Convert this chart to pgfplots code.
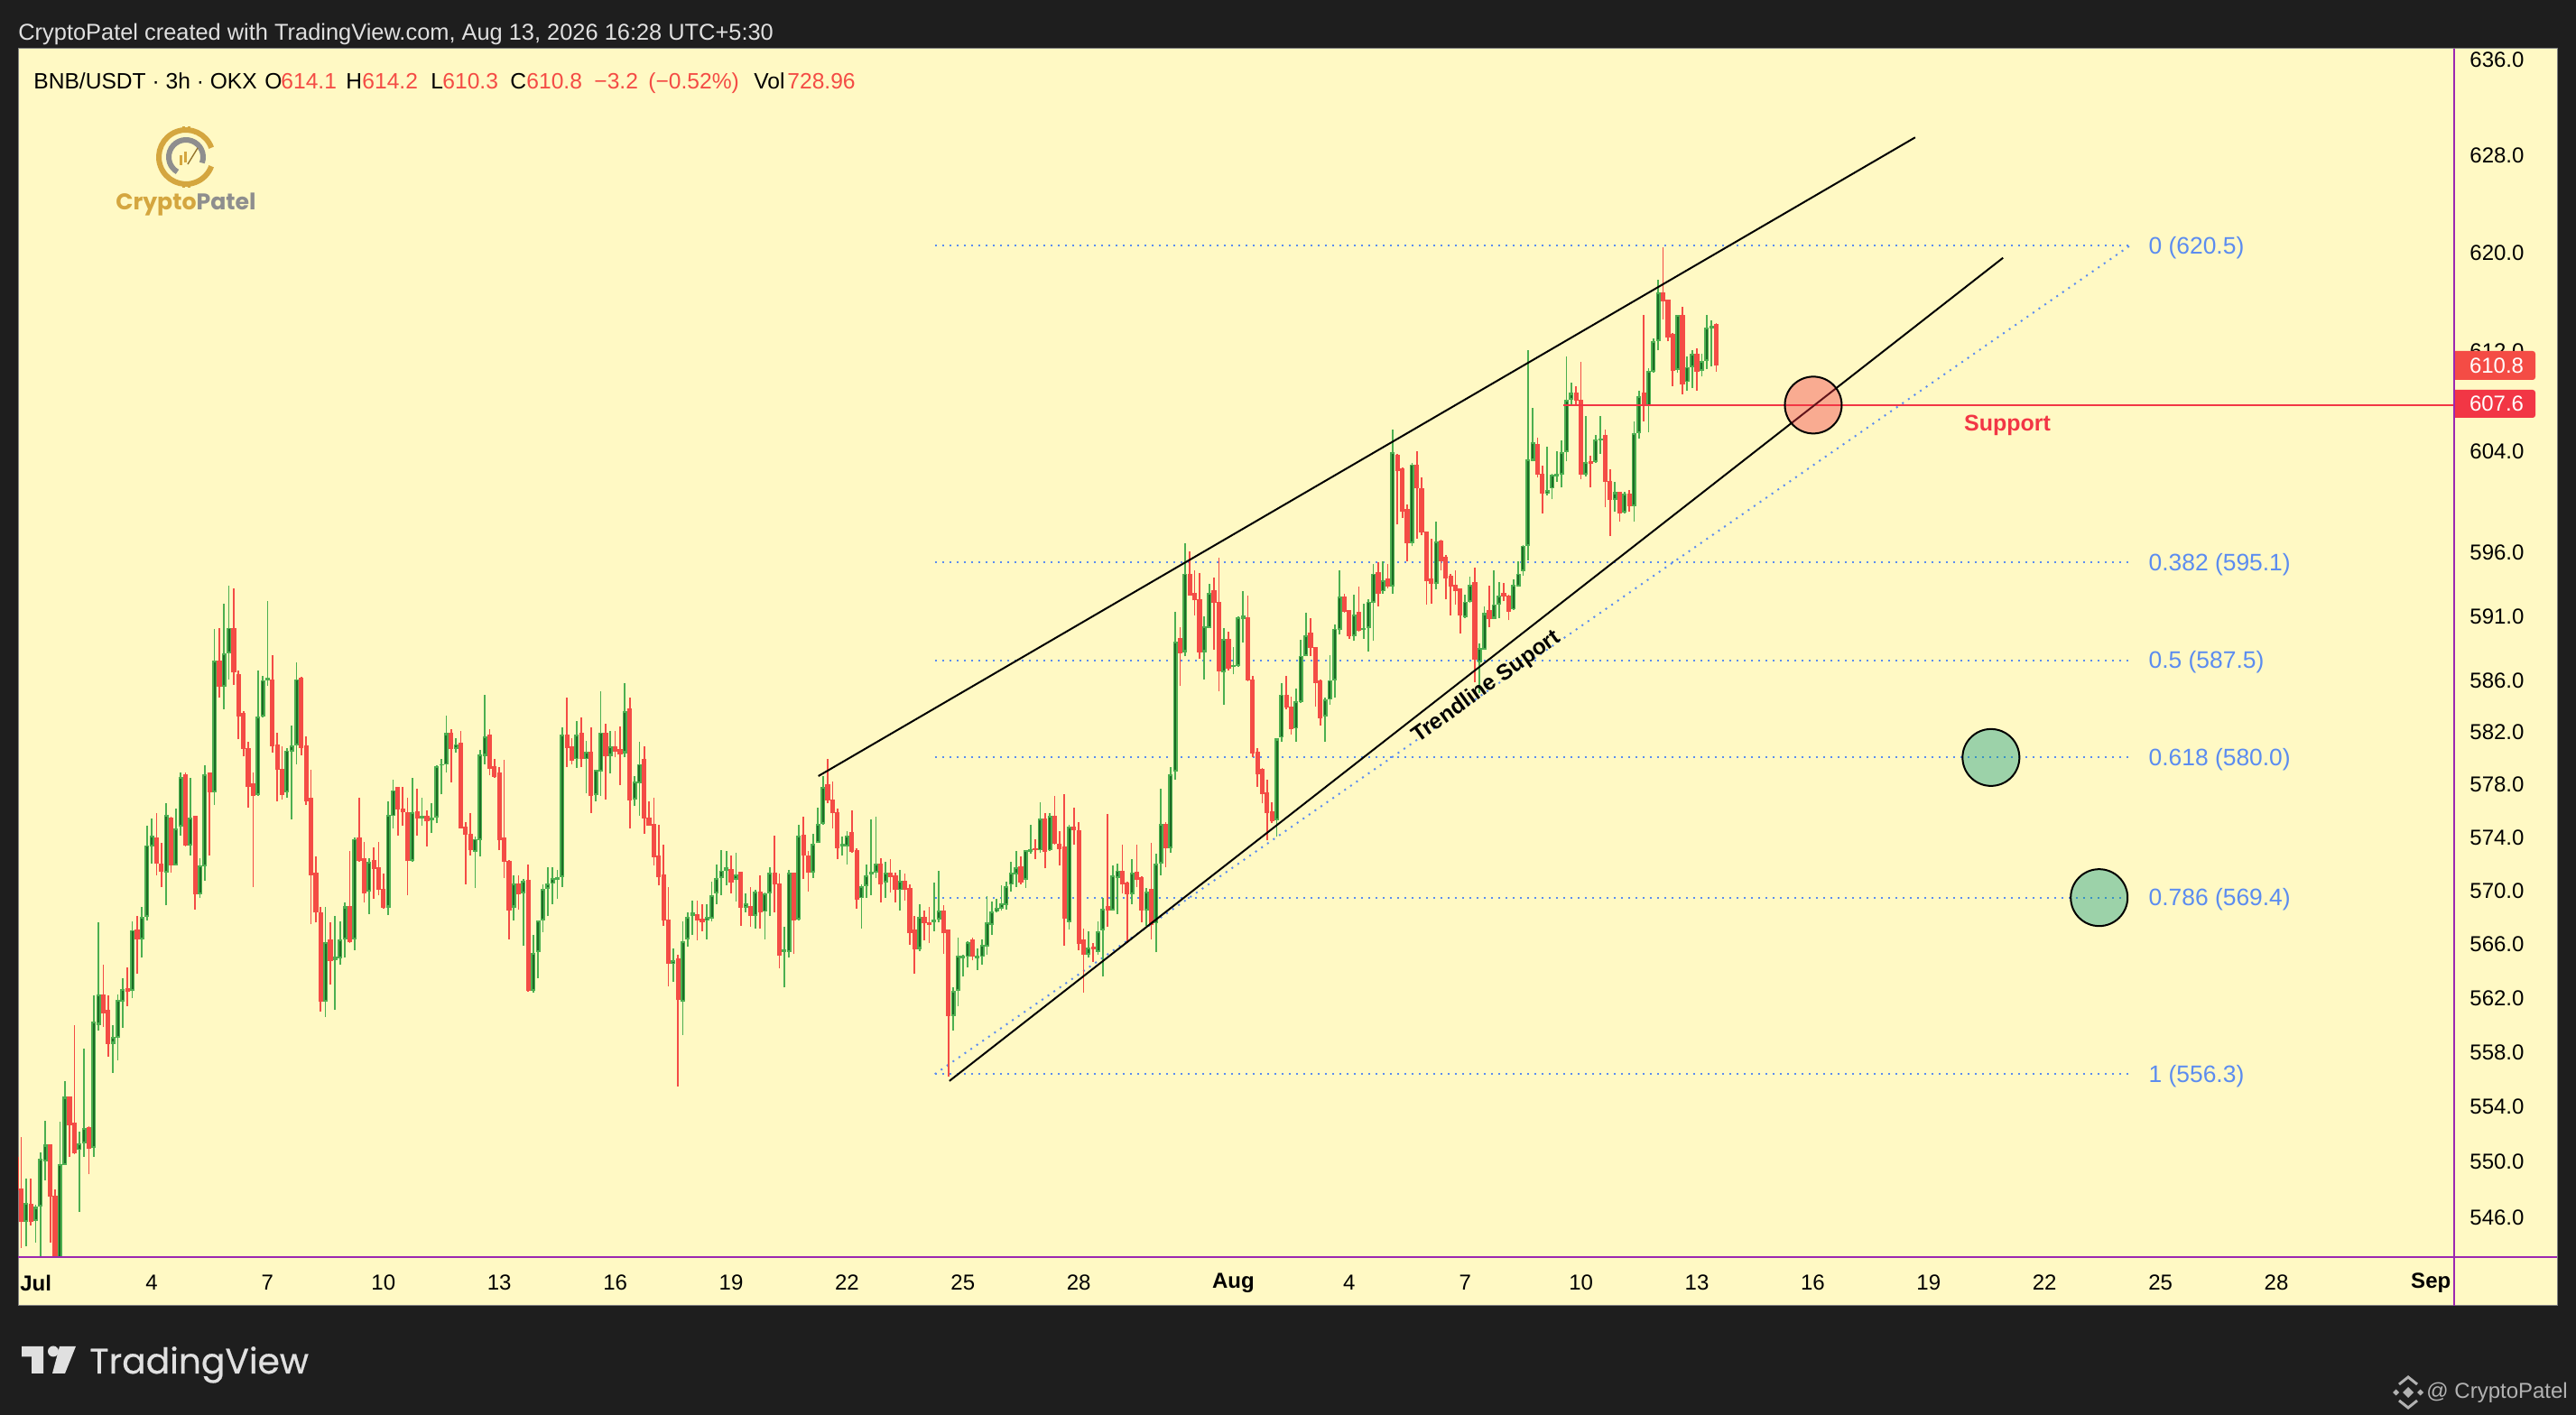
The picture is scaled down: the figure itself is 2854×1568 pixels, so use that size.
\documentclass[border=0pt]{standalone}
\usepackage{fontspec}
\setmainfont{Liberation Sans}
\newfontfamily\pop{Poppins}
\newfontfamily\popm{Poppins}[FakeBold=0.5]
\usepackage{pgfplots}
\usepackage{pgfplotstable}
\pgfplotsset{compat=1.18}

\definecolor{bgdark}{HTML}{1E1E1E}
\definecolor{panel}{HTML}{FFF9C4}
\definecolor{upg}{HTML}{4CAF50}
\definecolor{updark}{HTML}{1B6B25}
\definecolor{dnr}{HTML}{F44C45}
\definecolor{supp}{HTML}{F23645}
\definecolor{fib}{HTML}{5B8CF0}
\definecolor{purp}{HTML}{9C27B0}
\definecolor{gold}{HTML}{D4A63F}
\definecolor{logogrey}{HTML}{8E8E8E}
\definecolor{tealc}{HTML}{089981}

% k = 3h bar index (k=0 is Jul 1), open high low close
\pgfplotstableread{
k o h l c
-4 550.2 550.2 545.5 547.9
-3 547.9 551.7 543.7 545.6
-2 545.6 548.7 543.8 546.9
-1 546.8 548.7 545.3 545.6
0 545.7 546.8 544.1 546.6
1 546.7 550.6 543.0 550.1
2 550.0 552.9 548.6 551.1
3 551.1 551.1 544.1 547.4
4 547.4 547.9 540.0 541.0
5 541.0 552.8 540.0 549.7
6 549.7 555.8 549.7 554.6
7 554.6 554.7 550.3 552.6
8 552.7 559.9 550.5 550.6
9 550.8 552.1 546.3 551.2
10 551.3 558.2 550.3 552.3
11 552.4 552.5 549.0 550.9
12 551.0 562.1 550.3 560.1
13 560.0 567.5 559.5 562.1
14 562.1 564.4 559.8 560.8
15 561.0 562.1 557.6 558.6
16 558.6 559.9 556.4 559.0
17 559.0 562.2 557.3 561.7
18 561.7 563.4 559.7 562.5
19 562.6 564.2 561.3 562.4
20 562.5 567.6 561.9 566.9
21 567.0 568.0 563.7 566.3
22 566.3 568.7 564.9 567.9
23 568.0 574.8 567.7 573.3
24 573.3 575.4 572.0 574.0
25 573.9 575.8 571.1 572.0
26 571.9 573.5 570.2 571.4
27 571.3 576.5 568.8 575.6
28 575.4 575.5 571.3 571.9
29 571.9 576.1 571.9 574.6
30 574.8 578.9 574.1 578.5
31 578.7 578.9 573.3 573.4
32 573.4 578.5 572.6 575.4
33 575.5 575.6 568.5 569.7
34 569.7 572.4 569.4 571.8
35 571.8 579.4 570.7 578.7
36 578.8 578.8 572.6 577.4
37 577.4 589.9 576.4 587.4
38 587.4 590.0 584.6 585.5
39 585.5 591.9 583.7 588.0
40 588.1 593.3 586.0 590.0
41 590.0 593.1 585.6 586.6
42 586.4 586.7 581.4 583.2
43 583.4 583.6 580.1 580.7
44 580.7 581.2 576.2 577.8
45 578.0 578.9 570.2 577.1
46 577.2 586.7 577.1 583.1
47 583.2 586.3 583.1 585.9
48 586.0 592.1 585.5 586.1
49 586.0 587.9 580.4 580.9
50 581.0 581.9 576.7 579.1
51 579.1 580.9 576.8 577.2
52 577.4 580.7 577.0 580.5
53 580.5 582.5 575.3 580.9
54 581.0 587.3 579.5 586.0
55 586.1 586.2 580.2 580.8
56 580.9 581.6 576.4 576.7
57 576.9 579.1 567.4 571.1
58 571.2 572.5 567.5 568.3
59 568.2 568.7 560.9 561.7
60 561.7 568.7 560.5 566.0
61 566.2 567.5 562.9 564.7
62 564.8 568.0 561.0 564.9
63 564.9 567.6 564.4 566.2
64 566.3 569.0 564.9 568.7
65 568.7 572.9 566.0 566.1
66 566.3 573.9 565.5 573.8
67 573.9 576.9 572.1 572.2
68 572.3 573.6 569.0 569.8
69 569.9 572.4 568.2 572.0
70 572.2 573.2 569.3 571.6
71 571.6 573.6 569.6 570.0
72 570.0 571.2 568.6 568.7
73 568.7 576.7 568.1 575.6
74 575.6 578.3 574.6 577.5
75 577.7 577.8 574.1 576.1
76 576.1 577.8 574.8 575.9
77 575.8 577.0 569.6 572.2
78 572.2 578.5 572.1 575.8
79 575.9 577.6 574.1 575.4
80 575.4 577.0 574.8 575.5
81 575.5 576.0 573.3 575.2
82 575.3 576.5 574.3 575.4
83 575.5 579.4 575.0 579.3
84 579.5 579.9 577.2 579.5
85 579.5 583.2 578.9 581.8
86 581.8 582.2 578.1 580.7
87 580.7 581.5 580.4 581.0
88 581.1 582.0 574.6 574.7
89 574.7 575.1 570.4 574.2
90 574.2 575.8 572.6 573.0
91 572.9 574.0 570.1 573.8
92 573.8 580.6 572.5 580.2
93 580.2 584.8 579.5 581.6
94 581.7 582.2 578.7 579.2
95 579.3 579.9 578.5 578.6
96 578.8 579.3 573.0 573.8
97 573.9 579.8 570.9 572.1
98 572.1 572.2 566.3 568.5
99 568.7 571.1 567.7 570.4
100 570.4 571.1 568.5 569.7
101 569.8 570.8 565.8 570.6
102 570.7 571.9 562.4 562.5
103 562.5 566.6 562.3 565.2
104 565.4 567.7 563.4 567.6
105 567.7 570.4 566.8 570.0
106 570.1 571.7 568.0 570.4
107 570.5 571.7 568.9 570.8
108 570.8 571.5 569.3 570.9
109 571.0 582.3 570.2 581.7
110 581.7 584.6 579.3 580.8
111 580.8 581.5 579.5 579.8
112 579.9 582.8 579.2 581.7
113 581.9 583.1 579.3 579.9
114 579.9 581.3 577.3 580.4
115 580.4 582.3 575.8 577.1
116 577.2 579.1 576.7 579.0
117 579.0 585.1 577.1 581.9
118 581.8 582.6 576.8 580.2
119 580.2 582.0 578.8 580.8
120 580.8 582.0 580.0 580.5
121 580.6 582.4 577.9 580.3
122 580.4 585.7 580.0 583.5
123 583.7 584.6 574.6 576.8
124 576.9 578.6 576.3 578.1
125 578.1 581.2 575.6 579.5
126 579.8 580.9 574.2 575.4
127 575.4 576.7 574.8 574.9
128 574.9 576.9 571.8 572.5
129 572.5 574.9 570.3 571.0
130 571.1 573.4 567.3 567.7
131 567.7 570.2 562.8 564.5
132 564.5 565.6 563.1 564.7
133 564.8 565.1 555.4 561.8
134 561.7 567.6 559.2 566.1
135 566.3 568.3 565.7 567.9
136 568.1 569.2 566.6 568.2
137 568.1 569.2 566.2 567.7
138 567.8 568.9 566.9 567.6
139 567.7 568.9 566.3 567.9
140 567.9 570.6 567.6 569.5
141 569.8 571.9 568.9 570.8
142 570.9 573.0 569.6 571.4
143 571.5 572.9 570.3 571.6
144 571.5 572.6 569.7 570.6
145 570.8 572.8 569.1 571.1
146 571.3 571.3 567.3 568.7
147 568.7 569.7 568.3 568.9
148 568.7 570.2 567.2 568.1
149 568.1 570.0 567.1 569.8
150 569.8 571.1 567.1 568.3
151 568.4 569.8 566.3 569.7
152 569.8 571.7 568.0 571.2
153 571.2 574.1 568.3 570.4
154 570.4 571.2 564.1 565.1
155 565.4 567.2 562.7 565.5
156 565.4 571.5 564.9 571.2
157 571.2 571.3 565.2 567.7
158 567.8 574.9 567.7 574.0
159 574.1 575.5 570.8 572.6
160 572.5 572.9 569.9 571.3
161 571.3 574.2 570.9 573.4
162 573.6 576.2 573.5 574.9
163 575.0 578.6 574.9 577.7
164 577.9 579.9 576.5 576.8
165 576.8 578.2 574.6 575.8
166 575.8 576.1 572.3 573.2
167 573.3 574.0 572.6 573.4
168 573.3 574.4 571.9 574.0
169 574.3 576.0 572.8 572.9
170 572.9 573.1 568.6 569.3
171 569.4 570.4 567.1 570.2
172 570.3 571.9 569.4 571.0
173 571.2 575.3 569.6 571.3
174 571.3 575.5 570.9 571.9
175 571.9 572.4 569.0 570.4
176 570.6 572.1 569.4 571.2
177 571.2 572.3 569.8 571.0
178 571.0 571.3 569.0 570.0
179 570.0 571.5 568.4 570.6
180 570.6 571.2 569.2 570.0
181 570.1 570.4 565.9 566.8
182 567.0 568.0 563.7 565.6
183 565.6 568.9 565.4 567.9
184 567.9 568.4 566.2 567.5
185 567.5 568.7 566.0 567.4
186 567.6 570.5 566.9 567.7
187 567.8 571.4 567.5 568.4
188 568.4 568.8 565.2 566.8
189 567.0 567.0 556.1 560.6
190 560.6 562.7 559.5 562.4
191 562.5 566.4 561.3 565.0
192 564.9 565.1 563.5 565.0
193 565.0 566.1 564.2 566.0
194 566.2 566.4 564.7 565.0
195 564.9 565.6 564.0 565.0
196 565.0 566.3 564.4 565.8
197 565.8 569.5 565.1 567.5
198 567.4 569.1 566.6 568.3
199 568.4 569.3 568.3 568.6
200 568.6 570.3 568.4 568.9
201 568.9 570.6 568.5 570.2
202 570.4 572.1 569.9 571.2
203 571.2 572.9 570.2 571.6
204 571.7 572.5 570.4 570.6
205 570.8 573.0 570.1 572.9
206 572.9 574.9 572.7 573.0
207 573.1 573.8 572.3 573.0
208 573.0 576.6 572.8 575.3
209 575.3 575.8 571.6 572.9
210 573.0 575.8 572.9 575.5
211 575.5 577.1 573.4 573.5
212 573.4 574.4 571.8 573.1
213 573.2 577.2 565.8 567.9
214 567.6 574.9 567.0 574.7
215 574.7 576.2 573.4 574.5
216 574.4 575.1 565.5 566.0
217 566.2 567.1 562.3 565.2
218 565.2 566.9 564.9 565.6
219 565.7 566.0 564.6 565.6
220 565.4 567.6 565.1 566.8
221 567.0 569.4 563.5 568.5
222 568.7 575.7 567.2 568.5
223 568.5 571.8 568.4 571.0
224 570.9 572.0 568.2 571.4
225 571.4 573.4 569.7 570.4
226 570.5 570.6 566.0 569.7
227 569.7 572.3 568.9 571.2
228 571.3 573.4 570.2 570.8
229 570.9 571.0 567.5 568.5
230 568.5 570.1 567.3 569.8
231 570.0 573.5 566.3 567.4
232 567.5 572.7 565.3 571.9
233 572.0 577.6 571.1 574.9
234 574.9 575.1 571.7 573.2
235 573.2 579.3 572.8 578.7
236 579.0 591.3 578.3 588.9
237 589.2 590.1 585.5 588.1
238 588.2 596.6 587.8 594.2
239 594.2 596.0 592.5 592.6
240 592.7 594.5 591.0 592.2
241 592.2 594.3 587.6 588.2
242 588.2 590.9 586.0 590.1
243 590.1 593.4 590.0 592.7
244 592.9 593.9 588.3 592.0
245 592.0 595.5 585.1 586.7
246 586.6 590.0 584.1 589.1
247 589.1 589.7 586.7 586.9
248 587.0 588.5 586.4 587.1
249 587.1 590.9 587.0 590.8
250 590.8 592.9 588.9 590.9
251 590.8 592.5 585.9 586.0
252 586.0 586.3 580.0 580.4
253 580.4 580.7 577.8 578.8
254 579.1 579.2 576.5 577.3
255 577.3 578.3 573.7 575.8
256 575.9 576.6 575.0 575.2
257 575.3 581.4 574.0 581.4
258 581.6 585.7 581.2 584.8
259 584.8 586.3 583.7 583.9
260 583.9 584.7 581.8 582.2
261 582.3 585.3 581.2 584.3
262 584.3 589.1 584.2 587.8
263 587.9 591.2 587.8 589.4
264 589.6 590.8 587.8 588.5
265 588.5 588.5 583.9 585.8
266 585.9 586.0 582.5 583.1
267 583.2 584.6 581.2 584.4
268 584.5 587.9 584.1 585.9
269 586.0 590.3 584.6 589.9
270 589.9 594.5 589.5 592.4
271 592.4 592.7 591.2 591.3
272 591.3 591.3 589.2 589.4
273 589.4 592.6 589.0 591.0
274 591.2 593.2 589.7 589.8
275 589.9 591.9 589.2 590.0
276 590.1 592.2 588.2 592.0
277 592.0 595.0 589.0 594.2
278 594.3 595.1 591.7 592.7
279 592.9 595.2 592.7 593.7
280 593.8 595.0 593.1 593.3
281 593.3 605.6 592.7 603.8
282 603.6 603.7 598.1 602.4
283 602.5 602.6 598.6 599.2
284 599.3 599.7 595.2 596.7
285 596.7 603.0 596.4 602.8
286 602.8 603.9 597.0 601.0
287 600.9 601.8 597.3 597.5
288 597.5 597.5 591.8 593.7
289 593.8 597.0 591.9 593.5
290 593.5 598.3 593.0 596.7
291 596.8 596.9 594.5 595.3
292 595.5 595.7 592.2 593.9
293 594.0 594.2 591.0 593.3
294 593.3 594.5 591.8 592.9
295 593.0 593.0 589.6 591.0
296 590.9 592.6 590.8 592.0
297 592.1 594.0 592.0 593.3
298 593.5 594.7 585.8 587.6
299 587.4 588.8 585.0 588.4
300 588.4 591.7 588.3 591.1
301 591.3 593.3 590.1 590.8
302 590.8 594.5 590.7 591.8
303 591.9 593.6 590.8 592.5
304 592.7 593.5 592.1 592.5
305 592.5 592.6 590.6 591.3
306 591.5 593.8 591.4 593.3
307 593.3 595.2 593.2 594.2
308 594.5 596.5 594.1 596.4
309 596.5 612.0 595.3 603.2
310 603.2 607.4 603.1 604.6
311 604.4 605.0 601.8 602.1
312 602.1 602.8 599.0 600.6
313 600.6 604.3 600.4 600.8
314 601.0 602.1 600.1 602.0
315 602.0 603.9 601.5 602.1
316 602.1 604.8 601.0 603.8
317 603.9 611.5 603.1 608.0
318 608.1 609.4 607.6 608.5
319 608.5 609.1 607.6 608.0
320 608.0 611.1 601.7 602.1
321 602.1 606.7 601.9 603.0
322 603.1 603.6 601.0 603.0
323 603.1 605.2 603.0 604.8
324 604.8 606.7 603.7 604.9
325 605.2 605.6 599.5 601.5
326 601.5 602.5 597.2 600.1
327 600.1 601.5 599.1 600.6
328 600.6 600.7 598.3 599.0
329 599.1 600.7 599.0 600.5
330 600.5 600.8 599.1 599.6
331 599.6 606.3 598.3 605.3
332 605.4 608.7 604.9 608.3
333 608.5 614.9 606.3 607.6
334 607.6 610.6 605.4 610.3
335 610.3 613.0 610.2 612.7
336 612.8 617.7 612.0 616.6
337 616.6 620.4 614.5 616.0
338 616.0 616.1 612.7 613.1
339 613.3 613.4 609.1 610.4
340 610.5 614.9 610.2 614.8
341 614.8 615.5 608.5 609.3
342 609.5 611.5 608.8 610.6
343 610.7 612.0 609.0 611.7
344 611.7 612.2 608.8 610.3
345 610.4 611.7 609.9 611.1
346 611.2 614.9 610.5 613.8
347 613.8 614.4 610.7 613.9
348 614.1 614.2 610.3 610.8
}\candles

% turn the table into broken line paths, one per candle part
\gdef\upwick{}\gdef\upbody{}\gdef\upcore{}\gdef\dnwick{}\gdef\dnbody{}
\pgfplotstablegetrowsof{\candles}
\pgfmathtruncatemacro{\lastrow}{\pgfplotsretval-1}
\foreach \i in {0,...,\lastrow} {
  \pgfplotstablegetelem{\i}{k}\of\candles \let\K\pgfplotsretval
  \pgfplotstablegetelem{\i}{o}\of\candles \let\O\pgfplotsretval
  \pgfplotstablegetelem{\i}{h}\of\candles \let\H\pgfplotsretval
  \pgfplotstablegetelem{\i}{l}\of\candles \let\L\pgfplotsretval
  \pgfplotstablegetelem{\i}{c}\of\candles \let\C\pgfplotsretval
  \ifdim\C pt<\O pt
    \pgfmathsetmacro{\ba}{\C-0.05}\pgfmathsetmacro{\bb}{\O+0.05}
    \xdef\dnwick{\dnwick (\K,\L) (\K,\H) (\K,nan)}
    \xdef\dnbody{\dnbody (\K,\ba) (\K,\bb) (\K,nan)}
  \else
    \pgfmathsetmacro{\ba}{\O-0.05}\pgfmathsetmacro{\bb}{\C+0.05}
    \xdef\upwick{\upwick (\K,\L) (\K,\H) (\K,nan)}
    \xdef\upbody{\upbody (\K,\ba) (\K,\bb) (\K,nan)}
    \pgfmathsetmacro{\ca}{\O+0.08}\pgfmathsetmacro{\cb}{\C-0.08}
    \ifdim\cb pt>\ca pt
      \xdef\upcore{\upcore (\K,\ca) (\K,\cb) (\K,nan)}
    \fi
  \fi
}
\newcommand{\candlepath}[2]{\edef\tmp{\noexpand\addplot[#1] coordinates {#2};}\tmp}
\def\nanword{nan}

\begin{document}
\begin{tikzpicture}
% background, coordinates in image pixels
\begin{scope}[x=0.5pt,y=-0.5pt,yshift=784pt]
  \fill[bgdark] (0,0) rectangle (2854,1568);
  \filldraw[fill=panel,draw=gray,line width=.5pt] (20,54) rectangle (2833,1447);
\end{scope}

\begin{axis}[
    at={(10pt,87.5pt)}, anchor=south west,
    scale only axis, width=1349.5pt, height=669.5pt,
    % price axis is logarithmic; ymode=log overflows TeX at this height
    y coord trafo/.code={\def\tmpy{#1}\ifx\tmpy\nanword\def\pgfmathresult{nan}\else\pgfmathparse{ln(#1)}\fi},
    xmin=-3.664, xmax=500.82,
    ymin=543.05, ymax=636.8,
    axis line style={draw=none},
    major tick length=0pt, tick style={draw=none},
    clip mode=individual,
    yticklabel pos=right,
    unbounded coords=jump,
    xtick={0,24,48,72,96,120,144,168,192,216,248,272,296,320,344,368,392,416,440,464,496},
    xticklabels={\textbf{Jul},4,7,10,13,16,19,22,25,28,\textbf{Aug},4,7,10,13,16,19,22,25,28,\textbf{Sep}},
    ytick={546,550,554,558,562,566,570,574,578,582,586,591,596,604,612,620,628,636},
    yticklabels={546.0,550.0,554.0,558.0,562.0,566.0,570.0,574.0,578.0,582.0,586.0,591.0,596.0,604.0,612.0,620.0,628.0,636.0},
    xticklabel style={font=\fontsize{12}{14}\selectfont,anchor=center,inner sep=0pt,yshift=-14.3pt},
    yticklabel style={font=\fontsize{12}{14}\selectfont,anchor=west,inner sep=0pt,xshift=8.5pt,yshift=-.7pt},
    every axis plot/.append style={forget plot},
]
  % fib levels, under the candles
  \addplot[fib,line width=1pt,dash pattern=on 1pt off 3pt] coordinates {(186.2,620.5) (433.7,620.5)};
  \addplot[fib,line width=1pt,dash pattern=on 1pt off 3pt] coordinates {(186.2,595.1) (433.7,595.1)};
  \addplot[fib,line width=1pt,dash pattern=on 1pt off 3pt] coordinates {(186.2,587.5) (433.7,587.5)};
  \addplot[fib,line width=1pt,dash pattern=on 1pt off 3pt] coordinates {(186.2,580.0) (433.7,580.0)};
  \addplot[fib,line width=1pt,dash pattern=on 1pt off 3pt] coordinates {(186.2,569.4) (433.7,569.4)};
  \addplot[fib,line width=1pt,dash pattern=on 1pt off 3pt] coordinates {(186.2,556.3) (433.7,556.3)};
  \addplot[fib,line width=1pt,dash pattern=on 1pt off 3pt] coordinates {(186.2,556.3) (433.7,620.5)};

  % candles
  \candlepath{upg,line width=.85pt}{\upwick}
  \candlepath{upg,line width=2.5pt}{\upbody}
  \candlepath{updark,line width=1pt}{\upcore}
  \candlepath{dnr,line width=.85pt}{\dnwick}
  \candlepath{dnr,line width=2.6pt}{\dnbody}

  % support level and the two trendlines
  \addplot[supp,line width=1pt] coordinates {(316.3,607.6) (500.8,607.6)};
  \addplot[black,line width=1pt] coordinates {(162.07,578.6) (389.2,629.4)};
  \addplot[black,line width=1pt] coordinates {(189.2,555.8) (407.4,619.5)};

  % marked levels
  \addplot[only marks,mark=*,mark size=15.75pt,
      mark options={fill=supp,fill opacity=.4,draw=black,line width=1pt}] coordinates {(368.1,607.6)};
  \addplot[only marks,mark=*,mark size=15.75pt,
      mark options={fill=tealc,fill opacity=.4,draw=black,line width=1pt}] coordinates {(404.9,580.0) (427.3,569.4)};

  \node[font=\bfseries\fontsize{12.3}{15}\selectfont,rotate=35.6,inner sep=0pt] at (axis cs:300.4,585.4) {Trendline Suport};
  \node[font=\bfseries\fontsize{12.5}{15}\selectfont,text=supp,inner sep=0pt,yshift=-.8pt] at (axis cs:408.3,606.1) {Support};

  \node[fib,font=\fontsize{13.2}{15}\selectfont,anchor=west,inner sep=0pt,yshift=-1.2pt] at (axis cs:437.5,620.5) {0 (620.5)};
  \node[fib,font=\fontsize{13.2}{15}\selectfont,anchor=west,inner sep=0pt,yshift=-1.2pt] at (axis cs:437.5,595.1) {0.382 (595.1)};
  \node[fib,font=\fontsize{13.2}{15}\selectfont,anchor=west,inner sep=0pt,yshift=-1.2pt] at (axis cs:437.5,587.5) {0.5 (587.5)};
  \node[fib,font=\fontsize{13.2}{15}\selectfont,anchor=west,inner sep=0pt,yshift=-1.2pt] at (axis cs:437.5,580.0) {0.618 (580.0)};
  \node[fib,font=\fontsize{13.2}{15}\selectfont,anchor=west,inner sep=0pt,yshift=-1.2pt] at (axis cs:437.5,569.4) {0.786 (569.4)};
  \node[fib,font=\fontsize{13.2}{15}\selectfont,anchor=west,inner sep=0pt,yshift=-1.2pt] at (axis cs:437.5,556.3) {1 (556.3)};
\end{axis}

% frame lines, tags, header, logos, coordinates in image pixels
\begin{scope}[x=0.5pt,y=-0.5pt,yshift=784pt]
  \draw[purp,line width=1pt] (20,1393) -- (2833,1393);
  \draw[purp,line width=1pt] (2719,54) -- (2719,1447);

  \begin{scope}
    \clip (2720,380) rectangle (2830,470);
    \fill[dnr,rounded corners=1.5pt] (2700,389) rectangle (2809,421);
    \fill[supp,rounded corners=1.5pt] (2700,432) rectangle (2809,463);
  \end{scope}
  \node[white,font=\fontsize{12}{14}\selectfont,inner sep=0pt] at (2766,405) {610.8};
  \node[white,font=\fontsize{12}{14}\selectfont,inner sep=0pt] at (2766,447.5) {607.6};

  \node[anchor=base west,inner sep=0pt,text=black!12,font=\fontsize{12.7}{14}\selectfont] at (20,45) {CryptoPatel created with TradingView.com, Aug 13, 2026 16:28 UTC+5:30};

  \begin{scope}[every node/.style={anchor=base west,inner sep=0pt,font=\fontsize{12.3}{14}\selectfont}]
    \node at (37,99) {BNB/USDT · 3h · OKX};
    \node at (293,99) {O};
    \node[text=dnr] at (311,99) {614.1};
    \node at (383,99) {H};
    \node[text=dnr] at (401,99) {614.2};
    \node at (477,99) {L};
    \node[text=dnr] at (490,99) {610.3};
    \node at (565,99) {C};
    \node[text=dnr] at (583,99) {610.8};
    \node[text=dnr] at (658,99) {−3.2};
    \node[text=dnr] at (718,99) {(−0.52\%)};
    \node at (835,99) {Vol};
    \node[text=dnr] at (872,99) {728.96};
  \end{scope}

  % CryptoPatel logo
  \draw[gold,line width=3pt,line cap=butt] ([shift={(20:15pt)}]206,174) arc[start angle=20,end angle=340,radius=15pt];
  \fill[gold] (202,140) rectangle (205,147);
  \fill[gold] (208,140) rectangle (211,147);
  \fill[gold] (202,201) rectangle (205,208);
  \fill[gold] (208,201) rectangle (211,208);
  \draw[logogrey,line width=3pt,line cap=butt] ([shift={(-20:9.5pt)}]206,174) arc[start angle=-20,end angle=240,radius=9.5pt];
  \fill[gold] (199,172) rectangle (202,183);
  \fill[gold] (204,168) rectangle (207,180);
  \draw[gold!70!black,line width=.7pt] (208,182) -- (219,164);
  \node[inner sep=0pt,font=\pop\bfseries\fontsize{12.6}{16}\selectfont] at (206,227) {\textcolor{gold}{Crypto}\textcolor{logogrey}{Patel}};

  % TradingView logo
  \fill[black!12] (24,1492) -- (48,1492) -- (48,1522) -- (35,1522) -- (35,1503.5) -- (24,1503.5) -- cycle;
  \fill[black!12] (59,1497.5) circle[radius=3pt];
  \fill[black!12] (66,1492) -- (84,1492) -- (72,1522) -- (58,1522) -- cycle;
  \node[anchor=base west,inner sep=0pt,text=black!12,font=\popm\fontsize{19.6}{21}\selectfont] at (99,1522) {TradingView};

  % bottom right signature
  \fill[black!30] (2668,1537) -- (2674,1543) -- (2668,1549) -- (2662,1543) -- cycle;
  \fill[black!30] (2651,1543) -- (2654.5,1539.5) -- (2658,1543) -- (2654.5,1546.5) -- cycle;
  \fill[black!30] (2678,1543) -- (2681.5,1539.5) -- (2685,1543) -- (2681.5,1546.5) -- cycle;
  \draw[black!30,line width=1.5pt] (2658,1534) -- (2668,1526) -- (2678,1534);
  \draw[black!30,line width=1.5pt] (2658,1552) -- (2668,1560) -- (2678,1552);
  \node[anchor=base west,inner sep=0pt,text=black!30,font=\fontsize{12}{14}\selectfont] at (2688,1550) {@ CryptoPatel};
\end{scope}
\end{tikzpicture}
\end{document}
